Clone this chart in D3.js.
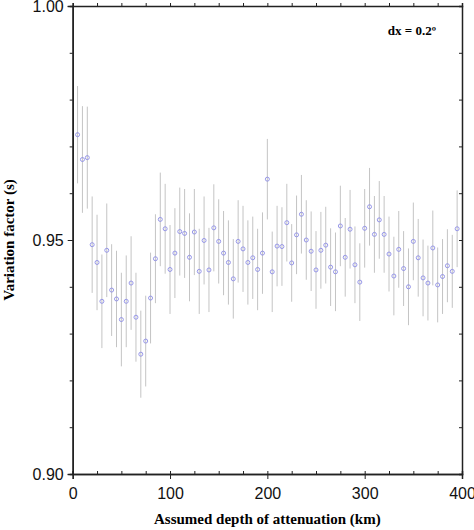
<!DOCTYPE html>
<html><head><meta charset="utf-8">
<script src="https://cdn.jsdelivr.net/npm/d3@7"></script>
<style>body{margin:0;background:#fff}</style></head>
<body><svg id="c" width="474" height="530"></svg>
<script>
const depths = d3.range(0, 400, 5);
const values = [1.001,0.9725,0.9672,0.9676,0.9490,0.9452,0.9369,0.9478,0.9393,0.9374,0.9330,0.9369,0.9408,0.9335,0.9256,0.9284,0.9376,0.9460,0.9544,0.9524,0.9437,0.9472,0.9518,0.9514,0.9463,0.9517,0.9433,0.9499,0.9436,0.9526,0.9497,0.9472,0.9452,0.9417,0.9497,0.9481,0.9452,0.9462,0.9437,0.9472,0.9630,0.9432,0.9487,0.9486,0.9537,0.9451,0.9511,0.9555,0.9500,0.9476,0.9436,0.9478,0.9489,0.9442,0.9432,0.9530,0.9463,0.9523,0.9447,0.9410,0.9525,0.9571,0.9512,0.9543,0.9512,0.9470,0.9423,0.9480,0.9439,0.9400,0.9497,0.9462,0.9419,0.9408,0.9483,0.9404,0.9422,0.9445,0.9433,0.9524];
const errors = [0.010,0.0104,0.0114,0.0109,0.0103,0.0102,0.0100,0.0100,0.0098,0.0103,0.0100,0.0098,0.0100,0.0095,0.0093,0.0097,0.0097,0.0095,0.0100,0.0096,0.0095,0.0096,0.0094,0.0095,0.0094,0.0092,0.0091,0.0094,0.0090,0.0093,0.0090,0.0090,0.0090,0.0085,0.0088,0.0092,0.0090,0.0088,0.0087,0.0087,0.0086,0.0086,0.0086,0.0084,0.0083,0.0083,0.0084,0.0084,0.0085,0.0085,0.0083,0.0082,0.0082,0.0083,0.0084,0.0086,0.0084,0.0084,0.0082,0.0083,0.0084,0.0083,0.0082,0.0083,0.0082,0.0080,0.0084,0.0082,0.0080,0.0082,0.0083,0.0083,0.0082,0.0080,0.0080,0.0080,0.0080,0.0078,0.0078,0.0082];
const xTicks = [0,100,200,300,400];
const yTicks = [0.90,0.95,1.00];

const svg = d3.select('#c');
const L=72.7,R=462,T=6,B=474;
const x = d3.scaleLinear().domain([0,400]).range([L,R]);
const y = d3.scaleLinear().domain([0.90,1.00]).range([B,T]);
svg.append('clipPath').attr('id','cp').append('rect').attr('x',L).attr('y',T).attr('width',R-L).attr('height',B-T);
const g = svg.append('g').attr('clip-path','url(#cp)');
const data = depths.map((d,i)=>({d,v:values[i],e:errors[i]}));
g.selectAll('line.eb').data(data).join('line').attr('class','eb')
 .attr('x1',d=>x(d.d)).attr('x2',d=>x(d.d)).attr('y1',d=>y(d.v+d.e)).attr('y2',d=>y(d.v-d.e))
 .attr('stroke','#c4c4c4').attr('stroke-width',1);
g.selectAll('circle').data(data).join('circle')
 .attr('cx',d=>x(d.d)).attr('cy',d=>y(d.v)).attr('r',2)
 .attr('fill','none').attr('stroke','#8c8ce6').attr('stroke-width',0.9);

const font='Liberation Sans, Arial, sans-serif';
// axes
const xb = svg.append('g').attr('transform',`translate(0,${B})`).call(d3.axisBottom(x).tickValues(xTicks).tickFormat(d3.format('d')).tickSize(5).tickPadding(6));
const xm = svg.append('g').attr('transform',`translate(0,${B})`).call(d3.axisBottom(x).tickValues(d3.range(0,401,25)).tickFormat('').tickSize(-3));
const xt = svg.append('g').attr('transform',`translate(0,${T})`).call(d3.axisTop(x).tickValues(d3.range(0,401,25)).tickFormat('').tickSize(3));
const yl = svg.append('g').attr('transform',`translate(${L},0)`).call(d3.axisLeft(y).tickValues(yTicks).tickFormat(d3.format('.2f')).tickSize(5).tickPadding(4));
const ym = svg.append('g').attr('transform',`translate(${L},0)`).call(d3.axisLeft(y).tickValues(d3.range(0,11).map(i=>0.90+i*0.01)).tickFormat('').tickSize(3));
const yr = svg.append('g').attr('transform',`translate(${R},0)`).call(d3.axisRight(y).tickValues(d3.range(0,11).map(i=>0.90+i*0.01)).tickFormat('').tickSize(-3));
[xb,xm,xt,yl,ym,yr].forEach(a=>{a.selectAll('path').attr('stroke','#222').attr('stroke-width',1.5);a.selectAll('line').attr('stroke','#222');a.selectAll('text').attr('font-family',font).attr('font-size',16).attr('fill','#111');});
xb.selectAll('text').attr('dy','0.9em');

svg.append('text').attr('x',(L+R)/2).attr('y',524).attr('text-anchor','middle')
 .attr('font-family','Liberation Serif, Times New Roman, serif').attr('font-weight','bold').attr('font-size',15).text('Assumed depth of attenuation (km)');
svg.append('text').attr('transform',`translate(14,${(T+B)/2}) rotate(-90)`).attr('text-anchor','middle')
 .attr('font-family','Liberation Serif, Times New Roman, serif').attr('font-weight','bold').attr('font-size',15).text('Variation factor (s)');
svg.append('text').attr('x',436).attr('y',35).attr('text-anchor','end')
 .attr('font-family','Liberation Serif, Times New Roman, serif').attr('font-weight','bold').attr('font-size',13).text('dx = 0.2º');
</script></body></html>
